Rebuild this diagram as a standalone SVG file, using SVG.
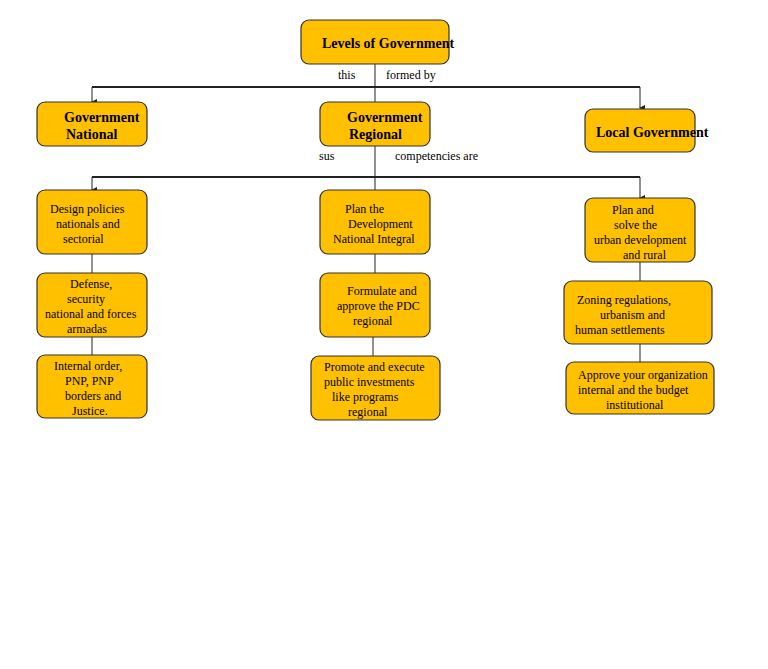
<svg xmlns="http://www.w3.org/2000/svg" width="768" height="669" viewBox="0 0 768 669">
<style>
.n{fill:#FFC000;stroke:#333;stroke-width:1.2}
.t{font-family:"Liberation Serif",serif;font-size:12px;fill:#000}
.b{font-weight:bold;font-size:14px}
.c{stroke:#222;stroke-width:1;fill:none}
.h{stroke:#222;stroke-width:2;fill:none}
</style>
<defs><marker id="a" markerWidth="8" markerHeight="8" refX="4" refY="6" orient="auto" markerUnits="userSpaceOnUse"><path d="M1,1 L4,7 L7,1 Z" fill="#222"/></marker></defs>
<rect width="768" height="669" fill="#fff"/>
<g id="connectors">
<path class="c" d="M375,64 V87"/>
<path class="c" d="M375,87 V102"/>
<path class="h" d="M92,87 H640"/>
<path class="c" d="M92,87 V102" marker-end="url(#a)"/>
<path class="c" d="M640,87 V108" marker-end="url(#a)"/>
<path class="c" d="M375,146 V190"/>
<path class="h" d="M92,177 H640"/>
<path class="c" d="M92,177 V190" marker-end="url(#a)"/>
<path class="c" d="M640,177 V198" marker-end="url(#a)"/>
<path class="c" d="M92,254 V273 M92,337 V355 M375,254 V273 M373,337 V356 M640,262 V281 M640,344 V362"/>
<text class="t" x="338" y="79">this</text>
<text class="t" x="386" y="79">formed by</text>
<text class="t" x="319" y="160">sus</text>
<text class="t" x="395" y="160">competencies are</text>
</g>
<g id="top"><rect class="n" x="301" y="20" width="148" height="44" rx="8"/><text class="t b" x="322" y="48">Levels of Government</text></g>
<g id="national"><rect class="n" x="37" y="102" width="110" height="44" rx="8"/><text class="t b" x="64" y="122">Government</text><text class="t b" x="66" y="139">National</text></g>
<g id="regional"><rect class="n" x="320" y="102" width="110" height="44" rx="8"/><text class="t b" x="347" y="122">Government</text><text class="t b" x="349" y="139">Regional</text></g>
<g id="local"><rect class="n" x="585" y="109" width="110" height="43" rx="8"/><text class="t b" x="596" y="137">Local Government</text></g>
<g id="n1"><rect class="n" x="37" y="190" width="110" height="64" rx="8"/><text class="t" x="50" y="213">Design policies</text><text class="t" x="56" y="228">nationals and</text><text class="t" x="63" y="243">sectorial</text></g>
<g id="r1"><rect class="n" x="320" y="190" width="110" height="64" rx="8"/><text class="t" x="345" y="213">Plan the</text><text class="t" x="348" y="228">Development</text><text class="t" x="333" y="243">National Integral</text></g>
<g id="l1"><rect class="n" x="585" y="198" width="110" height="64" rx="8"/><text class="t" x="612" y="214">Plan and</text><text class="t" x="614" y="229">solve the</text><text class="t" x="594" y="244">urban development</text><text class="t" x="623" y="259">and rural</text></g>
<g id="n2"><rect class="n" x="37" y="273" width="110" height="64" rx="8"/><text class="t" x="70" y="288">Defense,</text><text class="t" x="67" y="303">security</text><text class="t" x="45" y="318">national and forces</text><text class="t" x="67" y="333">armadas</text></g>
<g id="r2"><rect class="n" x="320" y="273" width="110" height="64" rx="8"/><text class="t" x="347" y="295">Formulate and</text><text class="t" x="337" y="310">approve the PDC</text><text class="t" x="353" y="325">regional</text></g>
<g id="l2"><rect class="n" x="564" y="281" width="148" height="63" rx="8"/><text class="t" x="577" y="304">Zoning regulations,</text><text class="t" x="600" y="319">urbanism and</text><text class="t" x="575" y="334">human settlements</text></g>
<g id="n3"><rect class="n" x="37" y="355" width="110" height="63" rx="8"/><text class="t" x="54" y="370">Internal order,</text><text class="t" x="65" y="385">PNP, PNP</text><text class="t" x="65" y="400">borders and</text><text class="t" x="72" y="415">Justice.</text></g>
<g id="r3"><rect class="n" x="311" y="356" width="129" height="64" rx="8"/><text class="t" x="324" y="371">Promote and execute</text><text class="t" x="324" y="386">public investments</text><text class="t" x="332" y="401">like programs</text><text class="t" x="348" y="416">regional</text></g>
<g id="l3"><rect class="n" x="566" y="362" width="148" height="52" rx="8"/><text class="t" x="578" y="379">Approve your organization</text><text class="t" x="578" y="394">internal and the budget</text><text class="t" x="606" y="409">institutional</text></g>
</svg>
